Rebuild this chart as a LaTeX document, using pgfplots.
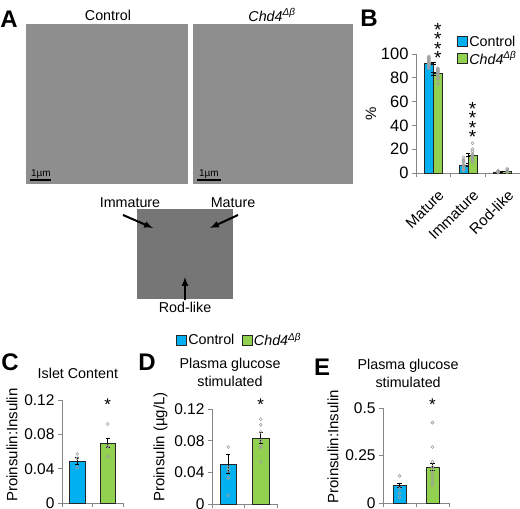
\documentclass[border=0pt]{standalone}
\usepackage{pgfplots}
\pgfplotsset{compat=1.18}
\usepackage{fontspec}
\setmainfont{Liberation Sans}
\definecolor{cblue}{HTML}{00B0F0}
\definecolor{cgreen}{HTML}{92D050}
\definecolor{axgray}{HTML}{868686}
\definecolor{ptgray}{HTML}{A0A0A0}
\definecolor{emgray}{HTML}{8E8E8E}
\definecolor{emdark}{HTML}{767676}
\newcommand\fs{\fontsize{14.3bp}{18bp}\selectfont}
\newcommand\tfs{\fontsize{15.5bp}{17bp}\selectfont}
\newcommand\lfs{\fontsize{15bp}{17bp}\selectfont}
\newcommand\chd{\textit{Chd4}\textsuperscript{\textit{Δβ}}}
\newcommand\panel{\fontsize{24bp}{26bp}\selectfont\bfseries}
\newcommand\fourstars{\vbox{\fontsize{19bp}{9.2bp}\selectfont\lineskiplimit=-20bp\lineskip=0pt
  \hbox{*}\hbox{*}\hbox{*}\hbox{*}}}
\pgfplotsset{
  panel/.style={scale only axis, anchor=south west, clip=false,
    axis x line*=bottom, axis y line*=left,
    axis line style={axgray, line width=0.7bp},
    tick style={axgray, line width=0.7bp}, tick align=outside, major tick length=4bp,
    every tick label/.append style={font=\tfs, text=black},
    label style={font=\lfs},
    title style={font=\fs, align=center, yshift=-6pt},
    /pgf/number format/assume math mode=true,
    /pgf/number format/fixed, /pgf/number format/precision=2,
    xmin=-0.5},
  barstyle/.style={ybar, bar width=#1, draw=black!85, line width=0.6bp,
    error bars/y dir=both, error bars/y explicit,
    error bars/error bar style={black, line width=0.9bp},
    error bars/error mark options={rotate=90, mark size=2.2bp, black, line width=0.9bp}},
  pts/.style={only marks, mark=o, mark size=1.5bp, ptgray, mark options={line width=0.6bp}},
  boxlegend/.style={legend image code/.code={\draw[##1] (0bp,-5bp) rectangle (10bp,5bp);}},
}
\begin{document}
\begin{tikzpicture}[x=1bp,y=1bp]
\path[use as bounding box] (0,0) rectangle (520,509);

% ---------- Panel A (micrographs as placeholders) ----------
\node[font=\panel] at (9,490) {A};
\node[font=\fs] at (108,494) {Control};
\node[font=\fs] at (272,494) {\chd};
\fill[emgray] (26,325) rectangle (188,485);
\fill[emgray] (193,325) rectangle (353,485);
\draw[black, line width=1.5bp] (30,329) -- (51,329);
\node[font=\fontsize{10bp}{11bp}\selectfont] at (41,335) {1µm};
\draw[black, line width=1.5bp] (197,329) -- (221,329);
\node[font=\fontsize{10bp}{11bp}\selectfont] at (209,335) {1µm};
\fill[emdark] (137,210) rectangle (233,300);
\node[font=\fs] at (130,306) {Immature};
\node[font=\fs] at (233,306) {Mature};
\node[font=\fs] at (185,202) {Rod-like};
\draw[-latex, line width=2bp] (123,294) -- (153,281);
\draw[-latex, line width=2bp] (238,294) -- (210,281);
\draw[-latex, line width=2bp] (185,209) -- (185,232);

% ---------- Panel B ----------
\node[font=\panel] at (369,491) {B};
\begin{axis}[panel, at={(416bp,336bp)}, width=104bp, height=119bp,
  xmax=2.5, ymin=0, ymax=100, ytick={0,20,...,100},
  every tick label/.append style={font=\fontsize{16.5bp}{18bp}\selectfont},
  xtick={-0.5,0.5,1.5,2.5}, xticklabels={},
  extra x ticks={0,1,2}, extra x tick labels={Mature,Immature,Rod-like},
  extra x tick style={major tick length=0pt,
    xticklabel style={rotate=45, anchor=north east, inner sep=1bp, xshift=-7bp, yshift=-13bp,
      font=\fontsize{15bp}{17bp}\selectfont}},
  ylabel={\%}, ylabel style={yshift=-2bp},
  legend style={at={(axis description cs:0.394,1.168)}, anchor=north west,
    draw=none, fill=none, font=\fs, row sep=1bp, inner sep=0pt,
    nodes={inner sep=1.5bp}},
  legend cell align=left]
\addlegendimage{boxlegend, fill=cblue, draw=black!85, line width=0.6bp}
\addlegendentry{Control}
\addlegendimage{boxlegend, fill=cgreen, draw=black!85, line width=0.6bp}
\addlegendentry{\chd}
\addplot[barstyle=0.26, bar shift=-0.13, fill=cblue, forget plot] coordinates {
  (0,92.2) +- (0,1.0)  (1,6.7) +- (0,1.0)  (2,1.0) +- (0,0.3)};
\addplot[barstyle=0.26, bar shift=0.13, fill=cgreen, forget plot] coordinates {
  (0,83.5) +- (0,1.2)  (1,15.0) +- (0,1.2)  (2,1.3) +- (0,0.4)};
\addplot[pts, forget plot] coordinates {
  (-0.13,98) (-0.13,97) (-0.13,96) (-0.13,95) (-0.13,94) (-0.13,93.5) (-0.13,93)
  (-0.13,92) (-0.13,91) (-0.13,90) (-0.13,89) (-0.13,88)
  (0.87,13) (0.87,11) (0.87,10) (0.87,9) (0.87,7) (0.87,6) (0.87,5) (0.87,4) (0.87,3) (0.87,2)
  (1.87,2) (1.87,1.5) (1.87,1) (1.87,0.5) (1.87,0.3)};
\addplot[pts, forget plot] coordinates {
  (0.13,88) (0.13,87) (0.13,86) (0.13,85.5) (0.13,85) (0.13,84) (0.13,83) (0.13,82)
  (0.13,80) (0.13,79) (0.13,75)
  (1.13,25) (1.13,20) (1.13,18) (1.13,16) (1.13,15) (1.13,14) (1.13,13) (1.13,12) (1.13,11) (1.13,9)
  (2.13,3.5) (2.13,2.5) (2.13,2) (2.13,1) (2.13,0.5)};
\node[inner sep=0pt] at (axis cs:0.13,108.5) {\fourstars};
\node[inner sep=0pt] at (axis cs:1.13,42) {\fourstars};
\end{axis}

% ---------- Panel C ----------
\node[font=\panel] at (10,147) {C};
\begin{axis}[panel, at={(62bp,6bp)}, width=61bp, height=103bp,
  xmax=1.5, ymin=0, ymax=0.12, ytick={0,0.04,0.08,0.12},
  xtick={-0.5,0.5,1.5}, xticklabels={},
  ylabel={Proinsulin:Insulin}, ylabel style={at={(ticklabel cs:0.563)}},
  title={Islet Content}, title style={at={(axis description cs:0.26,1.262)}, anchor=center}]
\addplot[barstyle=0.5, bar shift=0, fill=cblue] coordinates {(0,0.0489) +- (0,0.004)};
\addplot[barstyle=0.5, bar shift=0, fill=cgreen] coordinates {(1,0.0699) +- (0,0.005)};
\addplot[pts] coordinates {(0,0.057) (0,0.052) (0,0.041)};
\addplot[pts] coordinates {(1,0.092) (1,0.066) (1,0.054)};
\node[font=\fontsize{17bp}{18bp}\selectfont] at (axis cs:1,0.114) {*};
\end{axis}

% ---------- Panel D ----------
\node[font=\panel] at (147,147) {D};
\begin{axis}[panel, at={(212bp,5bp)}, width=65bp, height=95bp,
  xmax=1.5, ymin=0, ymax=0.12, ytick={0,0.04,0.08,0.12},
  xtick={-0.5,0.5,1.5}, xticklabels={},
  ylabel={Proinsulin (µg/L)}, ylabel style={at={(ticklabel cs:0.6)}},
  title={Plasma glucose\\stimulated}, title style={at={(axis description cs:0.277,1.39)}, anchor=center},
  legend style={at={(axis description cs:-0.554,1.726)}, anchor=west,
    draw=none, fill=none, font=\fs, inner sep=0pt, nodes={inner sep=1.5bp},
    /tikz/every even column/.append style={column sep=6bp}},
  legend columns=2, legend cell align=left]
\addlegendimage{boxlegend, fill=cblue, draw=black!85, line width=0.6bp}
\addlegendentry{Control}
\addlegendimage{boxlegend, fill=cgreen, draw=black!85, line width=0.6bp}
\addlegendentry{\chd}
\addplot[barstyle=0.52, bar shift=0, fill=cblue, forget plot] coordinates {(0,0.0505) +- (0,0.012)};
\addplot[barstyle=0.52, bar shift=0, fill=cgreen, forget plot] coordinates {(1,0.083) +- (0,0.007)};
\addplot[pts, forget plot] coordinates {(0,0.072) (0,0.046) (0,0.042) (0,0.033) (0,0.011)};
\addplot[pts, forget plot] coordinates {(1,0.107) (1,0.100) (1,0.091) (1,0.080) (1,0.073) (1,0.071) (1,0.053)};
\node[font=\fontsize{17bp}{18bp}\selectfont] at (axis cs:1,0.126) {*};
\end{axis}

% ---------- Panel E ----------
\node[font=\panel] at (322,142) {E};
\begin{axis}[panel, at={(383bp,6bp)}, width=66bp, height=95bp,
  xmax=1.5, ymin=0, ymax=0.5, ytick={0,0.25,0.5},
  xtick={-0.5,0.5,1.5}, xticklabels={},
  ylabel={Proinsulin:Insulin}, ylabel style={at={(ticklabel cs:0.59)}},
  title={Plasma glucose\\stimulated}, title style={at={(axis description cs:0.38,1.36)}, anchor=center}]
\addplot[barstyle=0.4, bar shift=0, fill=cblue] coordinates {(0,0.091) +- (0,0.011)};
\addplot[barstyle=0.4, bar shift=0, fill=cgreen] coordinates {(1,0.189) +- (0,0.02)};
\addplot[pts] coordinates {(0,0.143) (0,0.075) (0,0.05) (0,0.03)};
\addplot[pts] coordinates {(1,0.423) (1,0.295) (1,0.217) (1,0.19) (1,0.17) (1,0.15) (1,0.13) (1,0.11) (1,0.095)};
\node[font=\fontsize{17bp}{18bp}\selectfont] at (axis cs:1,0.52) {*};
\end{axis}
\end{tikzpicture}
\end{document}
